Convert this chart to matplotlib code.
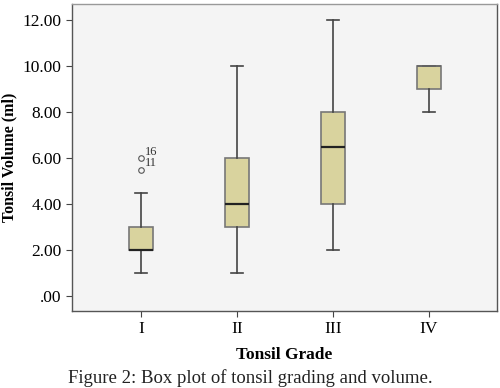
import matplotlib
matplotlib.use('Agg')
import matplotlib.pyplot as plt

grades = ['I', 'II', 'III', 'IV']
whislo = [1.0, 1.0, 2.0, 8.0]
q1 = [2.0, 3.0, 4.0, 9.0]
med = [2.0, 4.0, 6.5, 10.0]
q3 = [3.0, 6.0, 8.0, 10.0]
whishi = [4.5, 10.0, 12.0, 10.0]
fliers = [[5.5, 6.0], [], [], []]
flier_ids = [['11', '16'], [], [], []]

plt.rcParams['font.family'] = ['Liberation Serif', 'DejaVu Serif']

stats = []
for i in range(4):
    stats.append(dict(label=grades[i], whislo=whislo[i], q1=q1[i], med=med[i],
                      q3=q3[i], whishi=whishi[i], fliers=fliers[i]))

fig = plt.figure(figsize=(5, 3.88), dpi=100)
ax = fig.add_axes([72/500, 1-311/388, 425/500, 307/388])
ax.set_facecolor('#f4f4f4')

bp = ax.bxp(stats, positions=[1, 2, 3, 4], widths=0.25, patch_artist=True,
            boxprops=dict(facecolor='#d9d39e', edgecolor='#777777', lw=1.2),
            medianprops=dict(color='#222222', lw=1.6),
            whiskerprops=dict(color='#444444', lw=1.2),
            capprops=dict(color='#444444', lw=1.2),
            capwidths=0.125,
            flierprops=dict(marker='o', markersize=4, markerfacecolor='none',
                            markeredgecolor='#555555', markeredgewidth=0.8))
# median of grade IV sits on the box edge
bp['medians'][3].set_color('#666666')
bp['medians'][3].set_linewidth(1.2)

for i in range(4):
    for v, t in zip(fliers[i], flier_ids[i]):
        ax.text(i + 1 + 0.04, v + 0.02, t, fontsize=9, color='#333333',
                va='bottom', ha='left')

ax.set_xlim(0.28, 4.71)
ax.set_ylim(-0.65, 12.7)
ax.set_yticks([0, 2, 4, 6, 8, 10, 12])
ax.set_yticklabels(['.00', '2.00', '4.00', '6.00', '8.00', '10.00', '12.00'])
ax.set_xticks([1, 2, 3, 4])
ax.set_xticklabels(grades)
ax.tick_params(labelsize=12.5, color='#444444', length=4, direction='out')
for s in ax.spines.values():
    s.set_color('#555555')
    s.set_linewidth(1.0)
ax.spines['top'].set_color('#999999')

ax.set_xlabel('Tonsil Grade', fontsize=12.5, fontweight='bold', labelpad=7)
ax.set_ylabel('Tonsil Volume (ml)', fontsize=11.5, fontweight='bold', labelpad=4)

fig.text(0.5, 1/388, 'Figure 2: Box plot of tonsil grading and volume.',
         ha='center', va='bottom', fontsize=13.5, color='#222222')

fig.savefig('out.png', dpi=100)
